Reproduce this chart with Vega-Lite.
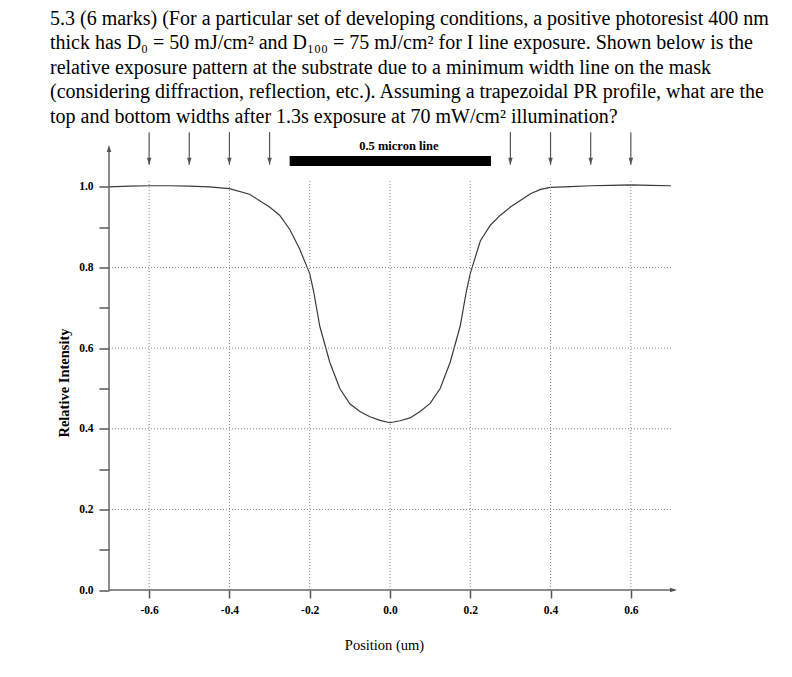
{
  "$schema": "https://vega.github.io/schema/vega-lite/v6.json",
  "autosize": "none",
  "width": 570,
  "height": 463.5,
  "padding": {"left": 109, "top": 126.5, "right": 113, "bottom": 87},
  "background": "white",
  "config": {"view": {"stroke": null}, "font": "Liberation Serif"},
  "title": {
    "text": [
      "5.3 (6 marks) (For a particular set of developing conditions, a positive photoresist 400 nm",
      "thick has D₀ = 50 mJ/cm² and D₁₀₀ = 75 mJ/cm² for I line exposure. Shown below is the",
      "relative exposure pattern at the substrate due to a minimum width line on the mask",
      "(considering diffraction, reflection, etc.). Assuming a trapezoidal PR profile, what are the",
      "top and bottom widths after 1.3s exposure at 70 mW/cm² illumination?"
    ],
    "font": "Liberation Serif",
    "fontSize": 20,
    "fontWeight": "normal",
    "color": "black",
    "anchor": "start",
    "frame": "group",
    "dx": -59,
    "lineHeight": 24.5,
    "offset": 0
  },
  "layer": [
    {
      "data": {"values": [
        {"x": -0.70, "y": 1.000},
        {"x": -0.65, "y": 1.002},
        {"x": -0.60, "y": 1.003},
        {"x": -0.55, "y": 1.003},
        {"x": -0.50, "y": 1.002},
        {"x": -0.45, "y": 1.000},
        {"x": -0.40, "y": 0.996},
        {"x": -0.35, "y": 0.982},
        {"x": -0.30, "y": 0.950},
        {"x": -0.275, "y": 0.930},
        {"x": -0.25, "y": 0.895},
        {"x": -0.225, "y": 0.846},
        {"x": -0.20, "y": 0.785},
        {"x": -0.19, "y": 0.740},
        {"x": -0.175, "y": 0.655},
        {"x": -0.15, "y": 0.565},
        {"x": -0.125, "y": 0.500},
        {"x": -0.10, "y": 0.462},
        {"x": -0.075, "y": 0.443},
        {"x": -0.05, "y": 0.430},
        {"x": -0.025, "y": 0.421},
        {"x": 0.0, "y": 0.415},
        {"x": 0.025, "y": 0.420},
        {"x": 0.05, "y": 0.427},
        {"x": 0.075, "y": 0.443},
        {"x": 0.10, "y": 0.463},
        {"x": 0.125, "y": 0.500},
        {"x": 0.15, "y": 0.565},
        {"x": 0.175, "y": 0.655},
        {"x": 0.19, "y": 0.740},
        {"x": 0.20, "y": 0.785},
        {"x": 0.225, "y": 0.866},
        {"x": 0.25, "y": 0.905},
        {"x": 0.275, "y": 0.930},
        {"x": 0.30, "y": 0.950},
        {"x": 0.35, "y": 0.983},
        {"x": 0.375, "y": 0.994},
        {"x": 0.40, "y": 0.999},
        {"x": 0.45, "y": 1.001},
        {"x": 0.50, "y": 1.003},
        {"x": 0.55, "y": 1.004},
        {"x": 0.60, "y": 1.005},
        {"x": 0.65, "y": 1.004},
        {"x": 0.70, "y": 1.003}
      ]},
      "mark": {"type": "line", "color": "#3a3a3a", "strokeWidth": 1.2},
      "encoding": {
        "x": {
          "field": "x", "type": "quantitative",
          "scale": {"domain": [-0.7, 0.72], "nice": false, "zero": false},
          "axis": {
            "values": [-0.6, -0.4, -0.2, 0, 0.2, 0.4, 0.6],
            "labelExpr": "replace(format(datum.value, '.1f'), '−', '-')",
            "domain": false, "grid": false,
            "tickSize": 8, "tickColor": "#555555", "tickWidth": 1.5,
            "labelFont": "Liberation Serif", "labelFontWeight": "bold", "labelFontSize": 11.5, "labelColor": "black",
            "labelPadding": 6, "labelFlush": false,
            "title": "Position (um)",
            "titleFont": "Liberation Serif", "titleFontWeight": "normal", "titleFontSize": 14.5, "titleColor": "black",
            "titleX": 275, "titleY": 55, "titleBaseline": "middle", "titleAlign": "center"
          }
        },
        "y": {
          "field": "y", "type": "quantitative",
          "scale": {"domain": [0, 1.15], "nice": false, "zero": false},
          "axis": {
            "values": [0, 0.1, 0.2, 0.3, 0.4, 0.5, 0.6, 0.7, 0.8, 0.9, 1.0],
            "labelExpr": "round(datum.value * 10) % 2 == 0 ? format(datum.value, '.1f') : ''",
            "domain": false, "grid": false,
            "tickSize": 10, "tickColor": "#555555", "tickWidth": 1.5,
            "labelFont": "Liberation Serif", "labelFontWeight": "bold", "labelFontSize": 11.5, "labelColor": "black",
            "labelPadding": 6, "labelFlush": false,
            "title": "Relative Intensity",
            "titleFont": "Liberation Serif", "titleFontWeight": "bold", "titleFontSize": 14.5, "titleColor": "black",
            "titleX": -45, "titleY": 256, "titleBaseline": "middle", "titleAlign": "center", "titleAngle": -90
          }
        }
      }
    },
    {
      "data": {"values": [
        {"gx": -0.6, "y0": 0, "y1": 1.017},
        {"gx": -0.4, "y0": 0, "y1": 1.017},
        {"gx": -0.2, "y0": 0, "y1": 1.017},
        {"gx": 0.0, "y0": 0, "y1": 1.017},
        {"gx": 0.2, "y0": 0, "y1": 1.017},
        {"gx": 0.4, "y0": 0, "y1": 1.017},
        {"gx": 0.6, "y0": 0, "y1": 1.017}
      ]},
      "mark": {"type": "rule", "color": "#8a8a8a", "strokeWidth": 1, "strokeDash": [1, 2]},
      "encoding": {
        "x": {"field": "gx", "type": "quantitative"},
        "y": {"field": "y0", "type": "quantitative"},
        "y2": {"field": "y1"}
      }
    },
    {
      "data": {"values": [
        {"gy": 0.2, "x0": -0.7, "x1": 0.7},
        {"gy": 0.4, "x0": -0.7, "x1": 0.7},
        {"gy": 0.6, "x0": -0.7, "x1": 0.7},
        {"gy": 0.8, "x0": -0.7, "x1": 0.7}
      ]},
      "mark": {"type": "rule", "color": "#8a8a8a", "strokeWidth": 1, "strokeDash": [1, 2]},
      "encoding": {
        "y": {"field": "gy", "type": "quantitative"},
        "x": {"field": "x0", "type": "quantitative"},
        "x2": {"field": "x1"}
      }
    },
    {
      "data": {"values": [
        {"ax": -0.7, "ax2": 0.71, "ay": 0, "ay2": 0},
        {"ax": -0.7, "ax2": -0.7, "ay": 0, "ay2": 1.098}
      ]},
      "mark": {"type": "rule", "color": "#666666", "strokeWidth": 1.5},
      "encoding": {
        "x": {"field": "ax", "type": "quantitative"},
        "x2": {"field": "ax2"},
        "y": {"field": "ay", "type": "quantitative"},
        "y2": {"field": "ay2"}
      }
    },
    {
      "data": {"values": [{"px": 0.715, "py": 0}]},
      "mark": {"type": "point", "filled": true, "color": "#555555", "opacity": 1, "size": 25, "shape": "M0,0L-2.8,-0.9L-2.8,0.9Z", "strokeWidth": 0},
      "encoding": {
        "x": {"field": "px", "type": "quantitative"},
        "y": {"field": "py", "type": "quantitative"}
      }
    },
    {
      "data": {"values": [{"px": -0.7, "py": 1.104}]},
      "mark": {"type": "point", "filled": true, "color": "#555555", "opacity": 1, "size": 25, "shape": "M0,0L-0.9,2.8L0.9,2.8Z", "strokeWidth": 0},
      "encoding": {
        "x": {"field": "px", "type": "quantitative"},
        "y": {"field": "py", "type": "quantitative"}
      }
    },
    {
      "data": {"values": [
        {"dx": -0.6, "top": 1.136, "tip": 1.055},
        {"dx": -0.5, "top": 1.136, "tip": 1.055},
        {"dx": -0.4, "top": 1.136, "tip": 1.055},
        {"dx": -0.3, "top": 1.136, "tip": 1.055},
        {"dx": 0.3, "top": 1.136, "tip": 1.055},
        {"dx": 0.4, "top": 1.136, "tip": 1.055},
        {"dx": 0.5, "top": 1.136, "tip": 1.055},
        {"dx": 0.6, "top": 1.136, "tip": 1.055}
      ]},
      "layer": [
        {
          "mark": {"type": "rule", "color": "#555555", "strokeWidth": 1.2},
          "encoding": {
            "x": {"field": "dx", "type": "quantitative"},
            "y": {"field": "tip", "type": "quantitative"},
            "y2": {"field": "top"}
          }
        },
        {
          "mark": {"type": "point", "filled": true, "color": "#555555", "opacity": 1, "size": 25, "shape": "M0,0L-0.9,-2.8L0.9,-2.8Z", "strokeWidth": 0},
          "encoding": {
            "x": {"field": "dx", "type": "quantitative"},
            "y": {"field": "tip", "type": "quantitative"}
          }
        }
      ]
    },
    {
      "data": {"values": [{"bx": -0.25, "bx2": 0.2515, "by": 1.052, "by2": 1.077}]},
      "mark": {"type": "rect", "color": "black"},
      "encoding": {
        "x": {"field": "bx", "type": "quantitative"},
        "x2": {"field": "bx2"},
        "y": {"field": "by", "type": "quantitative"},
        "y2": {"field": "by2"}
      }
    },
    {
      "data": {"values": [{"tx": 0.022, "ty": 1.101, "label": "0.5 micron line"}]},
      "mark": {"type": "text", "font": "Liberation Serif", "fontWeight": "bold", "fontSize": 12.5, "color": "black", "baseline": "middle", "align": "center"},
      "encoding": {
        "x": {"field": "tx", "type": "quantitative"},
        "y": {"field": "ty", "type": "quantitative"},
        "text": {"field": "label"}
      }
    }
  ]
}
